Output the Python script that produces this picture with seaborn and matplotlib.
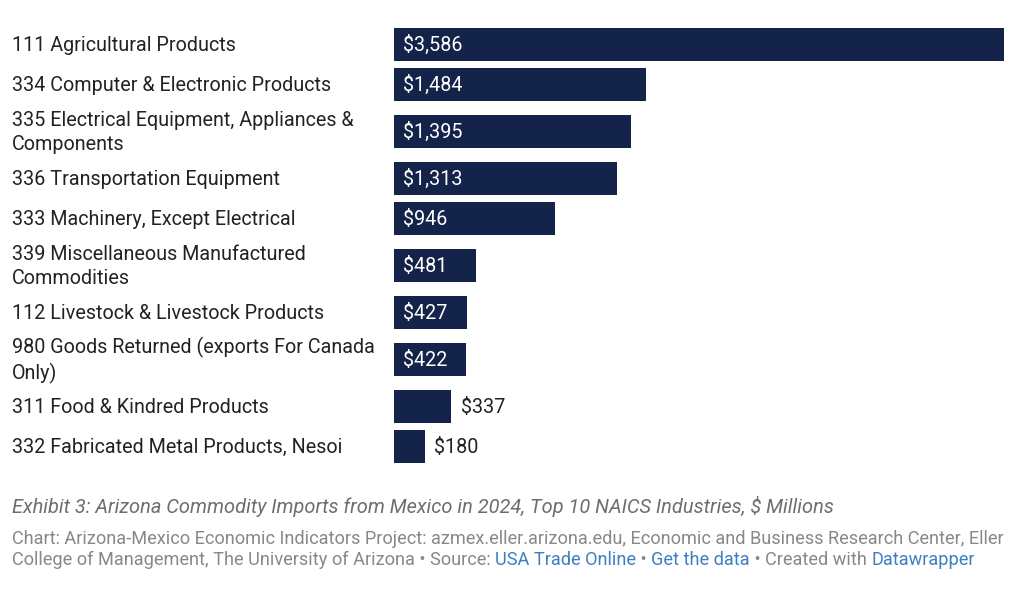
import matplotlib
matplotlib.use("Agg")
import matplotlib.pyplot as plt
import seaborn as sns
import pandas as pd

categories = [
    "111 Agricultural Products",
    "334 Computer & Electronic Products",
    "335 Electrical Equipment, Appliances &\nComponents",
    "336 Transportation Equipment",
    "333 Machinery, Except Electrical",
    "339 Miscellaneous Manufactured\nCommodities",
    "112 Livestock & Livestock Products",
    "980 Goods Returned (exports For Canada\nOnly)",
    "311 Food & Kindred Products",
    "332 Fabricated Metal Products, Nesoi",
]
values = [3586, 1484, 1395, 1313, 946, 481, 427, 422, 337, 180]
value_labels = ["$3,586", "$1,484", "$1,395", "$1,313", "$946", "$481", "$427", "$422", "$337", "$180"]

title = "Exhibit 3: Arizona Commodity Imports from Mexico in 2024, Top 10 NAICS Industries, $ Millions"
note_line1 = "Chart: Arizona-Mexico Economic Indicators Project: azmex.eller.arizona.edu, Economic and Business Research Center, Eller"
note_line2 = [("College of Management, The University of Arizona \u2022 Source: ", "#888888"),
              ("USA Trade Online", "#3d7fc1"),
              (" \u2022 ", "#888888"),
              ("Get the data", "#3d7fc1"),
              (" \u2022 Created with ", "#888888"),
              ("Datawrapper", "#3d7fc1")]

sns.set_theme(style="white")
plt.rcParams["font.family"] = ["Roboto", "DejaVu Sans"]

W, H = 1024, 592
fig = plt.figure(figsize=(W / 100, H / 100), dpi=100)

# row layout: rows with wrapped labels get more room
row_h = [40 + 14 * (c.count("\n")) for c in categories]
centers = []
acc = 0
for h in row_h:
    centers.append(acc + h / 2)
    acc += h
total = acc

top_px, left_px, right_px = 24, 394, 1004
ax = fig.add_axes([left_px / W, 1 - (top_px + total) / H, (right_px - left_px) / W, total / H])

df = pd.DataFrame({"cat": categories, "value": values, "pos": centers})
bar_color = "#14234a"
# native scale: width is relative to the smallest spacing between rows (40)
sns.barplot(data=df, x="value", y="pos", orient="h", native_scale=True,
            color=bar_color, width=33 / 40, ax=ax, saturation=1, edgecolor="none")
ax.set_xlim(0, max(values))
ax.set_ylim(total, 0)
ax.axis("off")

fs = 14.2
for c, v, lab, y in zip(categories, values, value_labels, centers):
    fig.text(12 / W, 1 - (top_px + y + 1.5) / H, c, ha="left", va="center",
             fontsize=fs, color="#222222", linespacing=1.3)
    if v > 400:
        ax.annotate(lab, (0, y), xytext=(6.5, -0.8), textcoords="offset points",
                    ha="left", va="center", color="white", fontsize=fs)
    else:
        ax.annotate(lab, (v, y), xytext=(7, -0.8), textcoords="offset points",
                    ha="left", va="center", color="#222222", fontsize=fs)

fig.text(12 / W, 1 - 513 / H, title, ha="left", va="baseline", fontsize=14.4,
         style="italic", color="#6e6e6e")
fig.text(12 / W, 1 - 544 / H, note_line1, ha="left", va="baseline", fontsize=13.1,
         color="#888888")

renderer = fig.canvas.get_renderer()
x = 12 / W
for txt, col in note_line2:
    t = fig.text(x, 1 - 565 / H, txt, ha="left", va="baseline", fontsize=13.1, color=col)
    bb = t.get_window_extent(renderer=renderer)
    x = bb.x1 / W

fig.savefig("out.png", dpi=100)
